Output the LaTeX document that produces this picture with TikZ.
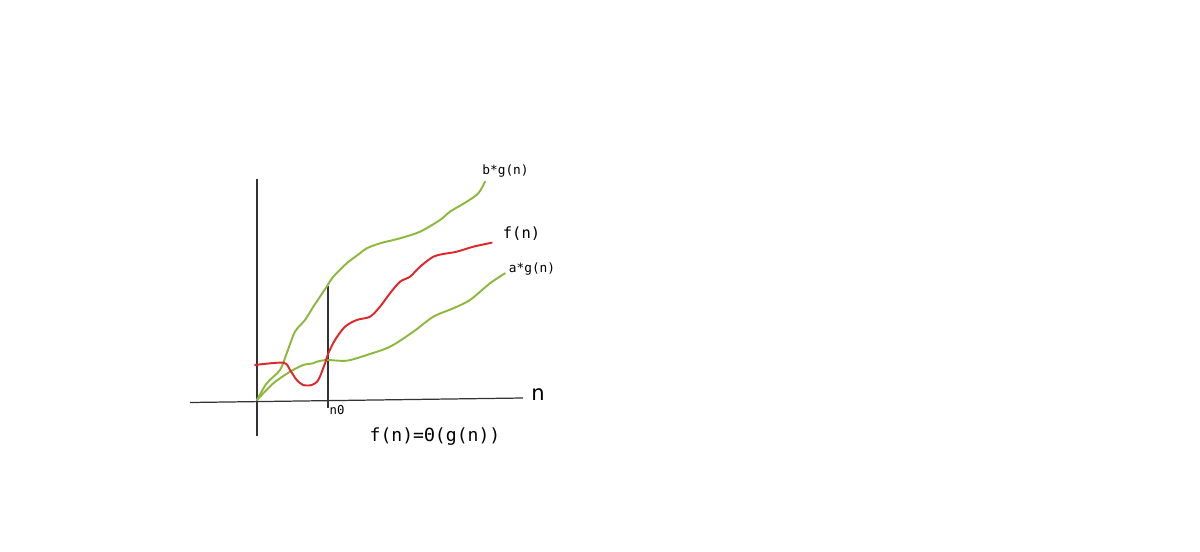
\documentclass[tikz,border=0pt]{standalone}
\usepackage{fontspec}
\setmainfont{DejaVu Sans}
\newfontfamily\monof{DejaVu Sans Mono}
\definecolor{gcurve}{HTML}{8CB93C}
\definecolor{rcurve}{HTML}{E0262A}
\definecolor{axisc}{HTML}{333333}
\begin{document}
\begin{tikzpicture}[x=0.02cm,y=-0.02cm,
  axisline/.style={draw=axisc,line width=0.7pt},
  gline/.style={draw=gcurve,line width=1.1pt,line cap=round,line join=round},
  rline/.style={draw=rcurve,line width=1.1pt,line cap=round,line join=round},
  lbl/.style={font=\monof\fontsize{7.3}{8}\selectfont,text=black,inner sep=0pt}]
\useasboundingbox[fill=white] (0,0) rectangle (1200,551);
% axes
\coordinate (xl) at (190,402.5);
\coordinate (xr) at (523,398);
\coordinate (yt) at (257,179);
\coordinate (yb) at (257,436);
\coordinate (n0t) at (328,286);
\coordinate (n0b) at (328,408);
\draw[axisline] (xl) -- (xr);
\draw[axisline] (yt) -- (yb);
\draw[axisline] (n0t) -- (n0b);
% b*g(n)
\draw[gline] plot[smooth,tension=0.5] coordinates {(257,400) (266.7,383.3) (280,370) (286.7,353.3) (295,331.7) (305,320) (313.3,306.7) (326.7,286.7) (333.3,276.7) (346.7,263.3) (360,253.3) (366.7,248.3) (380,243.3) (400,238.3) (420,231.7) (440,220) (450,211.7) (466.7,201.7) (478.3,193.3) (485,181.7)};
% a*g(n)
\draw[gline] plot[smooth,tension=0.5] coordinates {(257,400) (273.3,383.3) (290,371.7) (303.3,365) (313.3,363.3) (316.7,361.7) (326.7,360) (346.7,360.7) (366.7,355) (390,346.7) (413.3,331.7) (433.3,316.7) (453.3,308.3) (470,300) (490,283.3) (505,273.3)};
% f(n)
\draw[rline] plot[smooth,tension=0.5] coordinates {(255,365) (283.3,362.7) (290,370) (296.7,380) (303.3,385) (311.7,385) (318.3,380) (325,363.3) (328.3,353.3) (335,340) (345,326.7) (356.7,320) (370,316.7) (380,306.7) (390,293.3) (400,281.7) (410,276.7) (420,266.7) (433.3,256.7) (443.3,254) (456.7,251.7) (473.3,246.7) (491.7,242.7)};
% labels
\node[lbl] (lb) at (505.5,171) {b*g(n)};
\node[lbl,font=\monof\fontsize{8.8}{10}\selectfont] (lf) at (521.5,234) {f(n)};
\node[lbl] (la) at (532,269) {a*g(n)};
\node[lbl,font=\monof\fontsize{7}{8}\selectfont] (ln0) at (337,410) {n0};
\node[lbl,font=\fontsize{12}{14}\selectfont] (ln) at (538,395) {n};
\node[lbl,font=\monof\fontsize{10.3}{12}\selectfont] (lth) at (435,437) {f(n)=Θ(g(n))};
\end{tikzpicture}
\end{document}
